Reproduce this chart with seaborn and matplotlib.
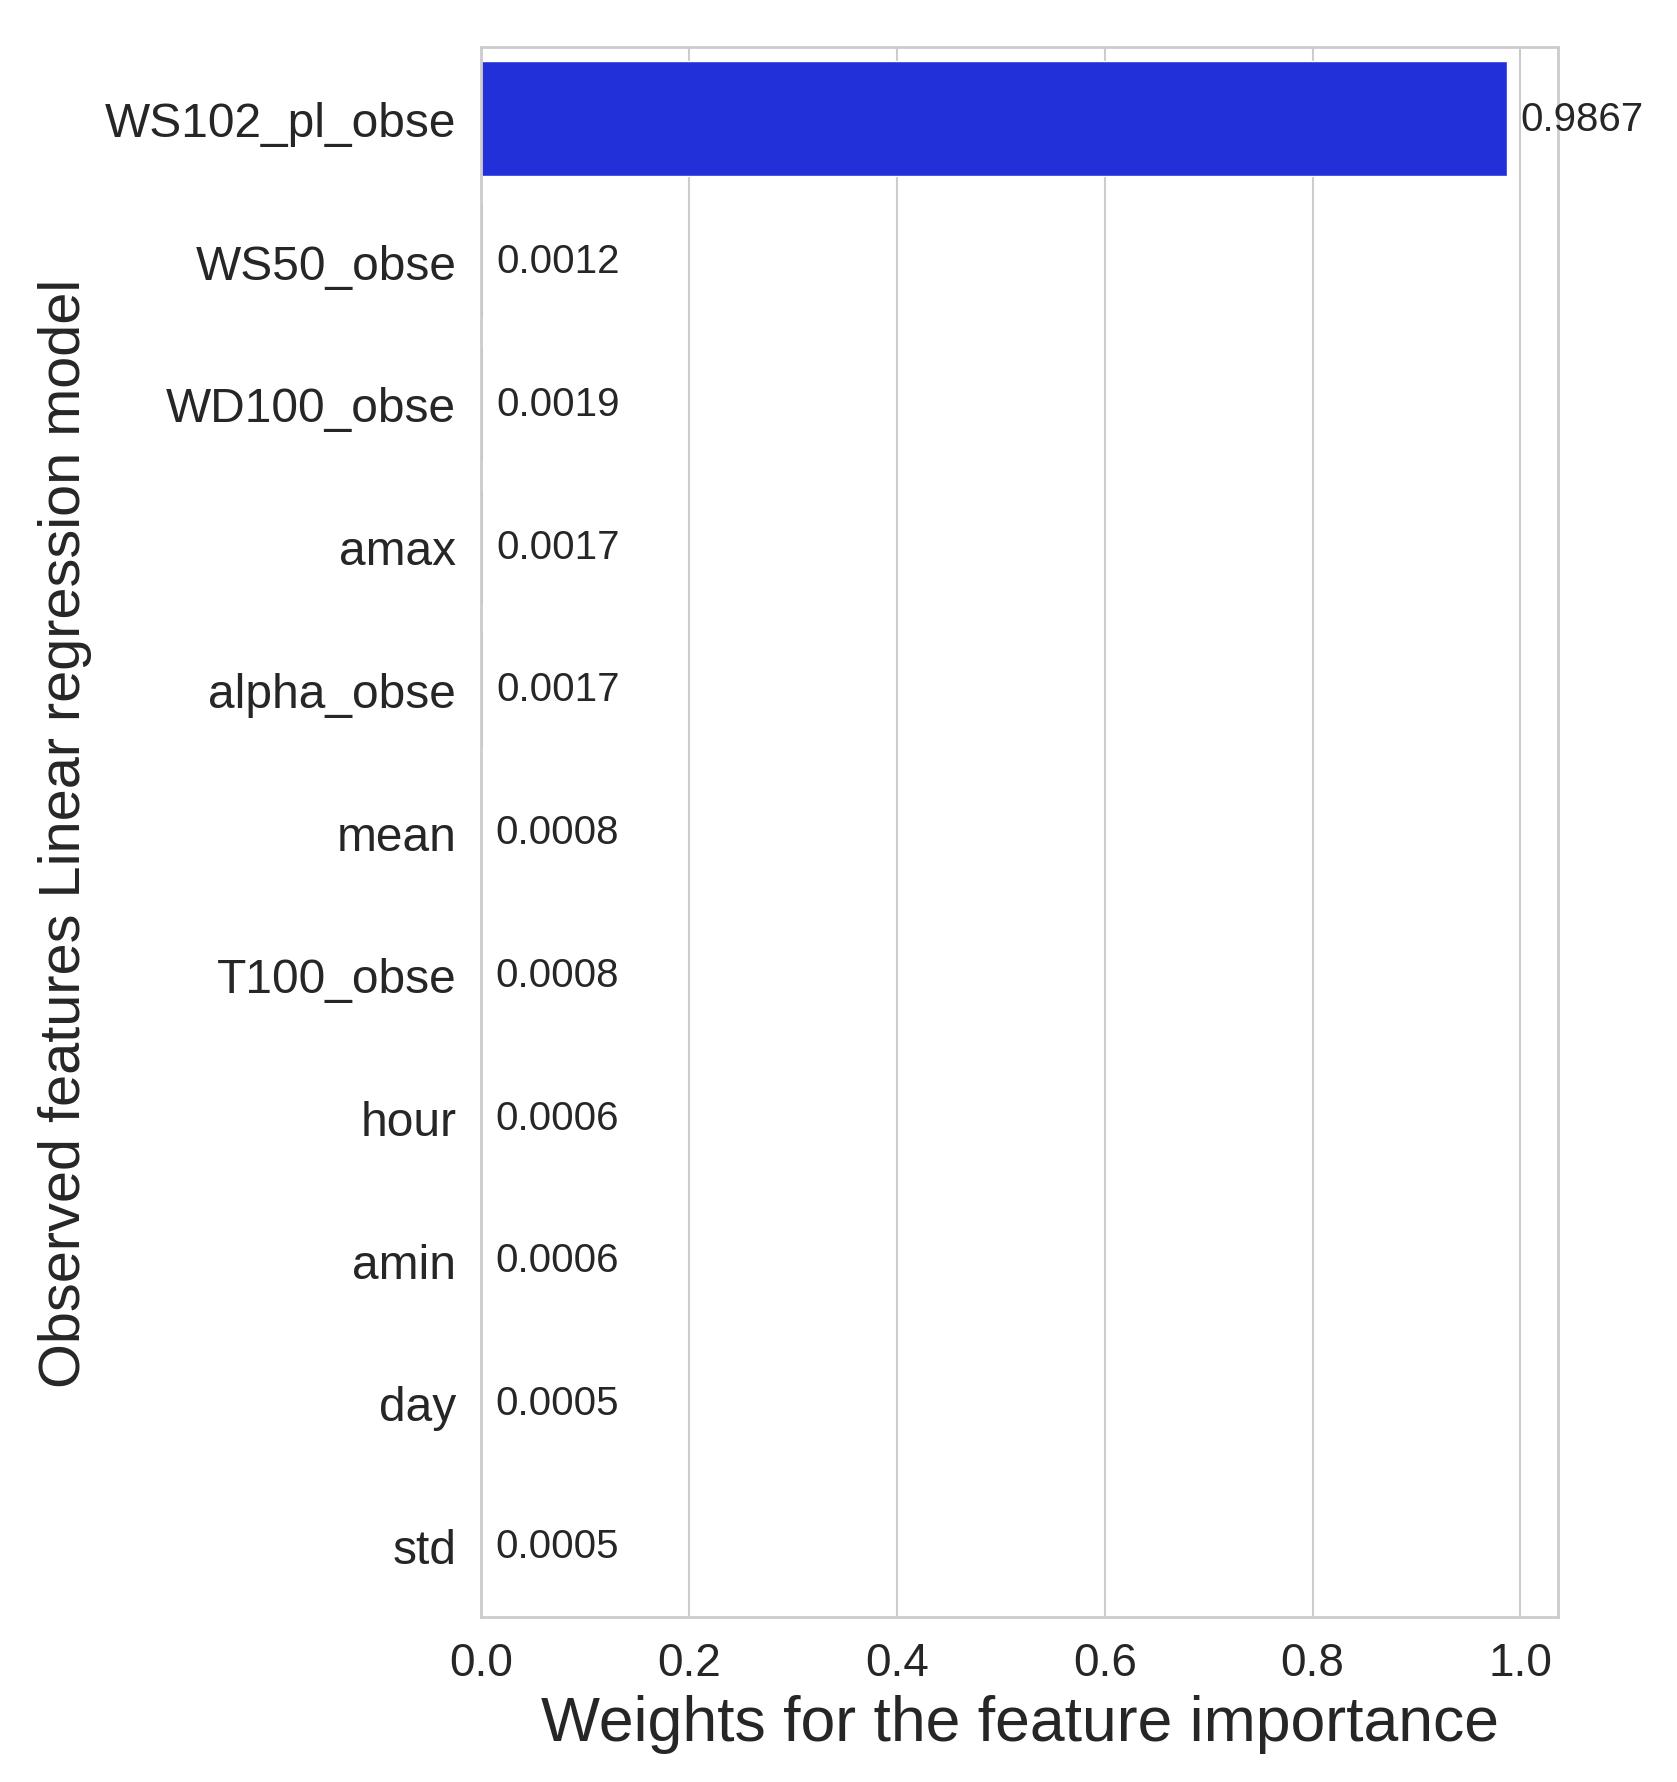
import numpy as np
import pandas as pd
import matplotlib
matplotlib.use("Agg")
import matplotlib.pyplot as plt
import seaborn as sns

# feature importance values
features = ['WS102_pl_obse', 'WS50_obse', 'WD100_obse', 'amax', 'alpha_obse',
            'mean', 'T100_obse', 'hour', 'amin', 'day', 'std']
weights = [0.9867, 0.0012, 0.0019, 0.0017, 0.0017,
           0.0008, 0.0008, 0.0006, 0.0006, 0.0005, 0.0005]

df = pd.DataFrame({'feature': features, 'weight': weights})

sns.set_theme(style="whitegrid")
plt.rcParams['font.family'] = ['Liberation Sans', 'DejaVu Sans']
plt.rcParams['axes.linewidth'] = 2
plt.rcParams['grid.linewidth'] = 1.5

fig, ax = plt.subplots(figsize=(16.77, 17.83), dpi=100)
fig.subplots_adjust(left=0.287, right=0.929, top=0.973, bottom=0.0925)

sns.barplot(data=df, x='weight', y='feature', color='#2130d8', saturation=1, ax=ax)

# value labels next to each bar
for p, w in zip(ax.patches, weights):
    ax.text(p.get_width() + 0.013, p.get_y() + p.get_height() / 2,
            '%.4f' % w, ha='left', va='center', fontsize=29, color='.15')

ax.set_xlabel('Weights for the feature importance', fontsize=45, labelpad=6)
ax.set_ylabel('Observed features Linear regression model', fontsize=41.5, labelpad=9)
ax.tick_params(axis='y', labelsize=34.5, pad=12)
ax.tick_params(axis='x', labelsize=33, pad=11.5)

fig.savefig('out.png', dpi=100)
